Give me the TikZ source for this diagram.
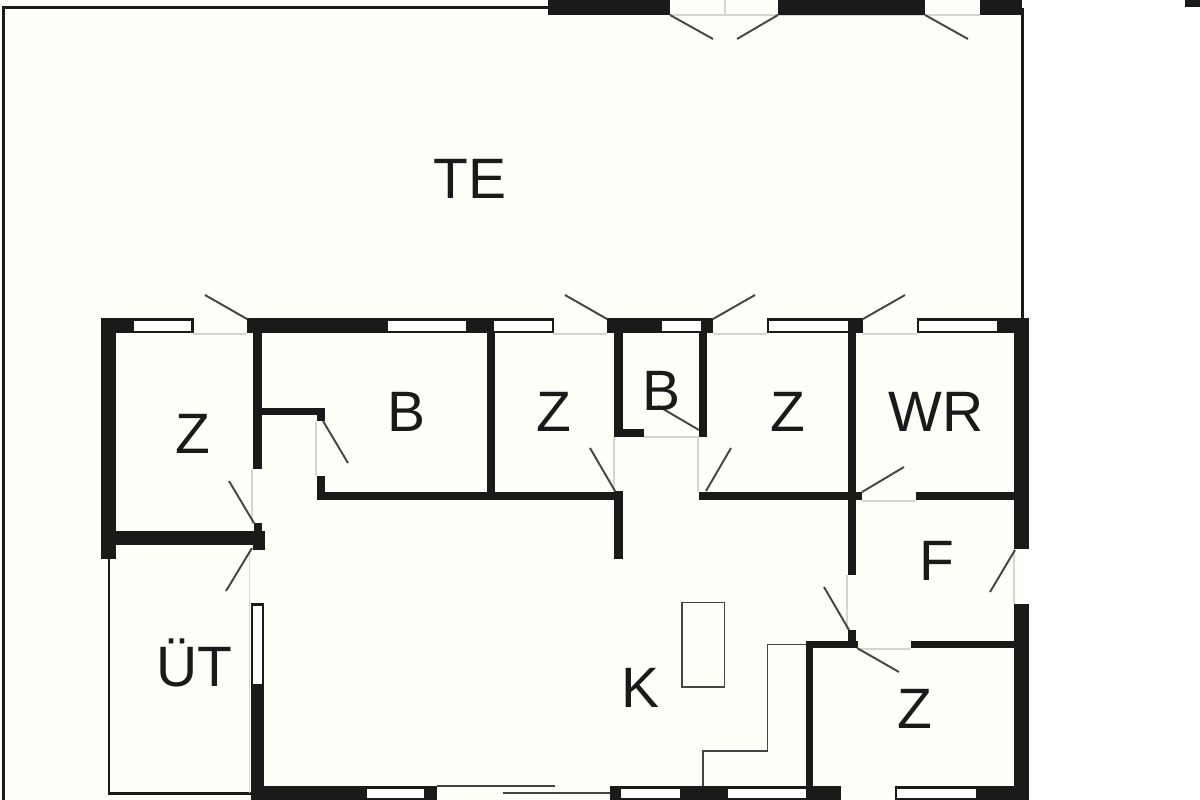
\documentclass[tikz,border=0pt]{standalone}
\usepackage{fontspec}
\setmainfont{Liberation Sans}
\definecolor{ink}{HTML}{1A1A1A}
\definecolor{paper}{HTML}{FFFFFA}
\definecolor{swingline}{HTML}{454545}
\definecolor{sillline}{HTML}{D6D6CF}
\tikzset{
	wall/.style={fill=ink},
	thinwall/.style={draw=ink, line width=0.85pt},
	windowpane/.style={draw=ink, fill=white, line width=0.7pt},
	swing/.style={draw=swingline, line width=0.55pt},
	sill/.style={draw=sillline, line width=0.3pt},
	fixture/.style={draw=swingline, line width=0.55pt},
	roomlabel/.style={anchor=base, inner sep=0pt, font=\fontsize{16.2}{18}\selectfont, text=ink}
}

\begin{document}
\begin{tikzpicture}[x=0.01cm, y=-0.01cm]
	\useasboundingbox (0, 0) rectangle (1200, 800);
	\fill[white] (0, 0) rectangle (1200, 800);
	\fill[paper] (0, 0) rectangle (1023, 800);
	
	% terrace outline
	\draw[thinwall] (3.5, 800) -- (3.5, 7.5) -- (548, 7.5);
	\draw[thinwall] (1022.5, 8) -- (1022.5, 320);
	\draw[thinwall] (109, 559) -- (109, 793.5) -- (251, 793.5);
	
	% sills
	\draw[sill] (670, 15) -- (980, 15);
	\draw[sill] (725, 0) -- (725, 15);
	\draw[sill] (193, 334) -- (247, 334);
	\draw[sill] (553, 334) -- (607, 334);
	\draw[sill] (713, 334) -- (767, 334);
	\draw[sill] (863, 334) -- (917, 334);
	\draw[sill] (316, 421) -- (316, 476);
	\draw[sill] (252, 469) -- (252, 524);
	\draw[sill] (249.5, 550) -- (249.5, 793);
	\draw[sill] (643, 437) -- (699, 437);
	\draw[sill] (614, 437) -- (614, 491);
	\draw[sill] (698, 437) -- (698, 492);
	\draw[sill] (862, 501) -- (916, 501);
	\draw[sill] (847, 575) -- (847, 630);
	\draw[sill] (1014, 549) -- (1014, 604);
	\draw[sill] (858, 649) -- (911, 649);
	
	% top wall
	\fill[wall] (548, 0) rectangle (670, 15);
	\fill[wall] (778, 0) rectangle (925, 15);
	\fill[wall] (980, 0) rectangle (1022, 15);
	\fill[wall] (1185, 0) rectangle (1200, 7);
	
	% north wall of the house
	\fill[wall] (101, 318) rectangle (132, 333);
	\fill[wall] (247, 318) rectangle (387, 333);
	\fill[wall] (467, 318) rectangle (493, 333);
	\fill[wall] (607, 318) rectangle (661, 333);
	\fill[wall] (702, 318) rectangle (713, 333);
	\fill[wall] (849, 318) rectangle (863, 333);
	\fill[wall] (998, 318) rectangle (1029, 333);
	\draw[windowpane] (132.5, 319.5) rectangle (192.5, 332);
	\draw[windowpane] (387, 319.5) rectangle (467, 332);
	\draw[windowpane] (493, 319.5) rectangle (553, 332);
	\draw[windowpane] (661, 319.5) rectangle (702, 332);
	\draw[windowpane] (768, 319.5) rectangle (849, 332);
	\draw[windowpane] (918, 319.5) rectangle (998, 332);
	
	% outer walls
	\fill[wall] (101, 318) rectangle (116, 559);
	\fill[wall] (1014, 318) rectangle (1029, 549);
	\fill[wall] (1014, 604) rectangle (1029, 800);
	\fill[wall] (251, 685) rectangle (264, 800);
	\draw[windowpane] (252, 604.5) rectangle (263, 685);
	
	% south wall
	\fill[wall] (251, 786) rectangle (366, 800);
	\fill[wall] (425, 786) rectangle (437, 800);
	\fill[wall] (610, 786) rectangle (620, 800);
	\fill[wall] (681, 786) rectangle (727, 800);
	\fill[wall] (807, 786) rectangle (841, 800);
	\fill[wall] (977, 786) rectangle (1029, 800);
	\draw[windowpane] (366, 787.5) rectangle (425, 799);
	\draw[windowpane] (620, 787.5) rectangle (681, 799);
	\draw[windowpane] (727, 787.5) rectangle (807, 799);
	\draw[windowpane] (896, 787.5) rectangle (977, 799);
	
	% inner walls
	\fill[wall] (253, 333) rectangle (262, 469);
	\fill[wall] (262, 408) rectangle (325, 415);
	\fill[wall] (317, 408) rectangle (325, 421);
	\fill[wall] (317, 476) rectangle (325, 500);
	\fill[wall] (317, 492) rectangle (623, 500);
	\fill[wall] (487, 333) rectangle (495, 492);
	\fill[wall] (614, 491) rectangle (623, 559);
	\fill[wall] (116, 531) rectangle (253, 545);
	\fill[wall] (254, 523) rectangle (262, 531);
	\fill[wall] (253, 531) rectangle (265, 550);
	\fill[wall] (614, 333) rectangle (623, 437);
	\fill[wall] (614, 429) rectangle (644, 437);
	\fill[wall] (699, 333) rectangle (707, 437);
	\fill[wall] (699, 492) rectangle (862, 500);
	\fill[wall] (848, 333) rectangle (856, 575);
	\fill[wall] (916, 492) rectangle (1014, 500);
	\fill[wall] (848, 630) rectangle (856, 641);
	\fill[wall] (806, 641) rectangle (858, 648);
	\fill[wall] (806, 641) rectangle (813, 786);
	\fill[wall] (911, 641) rectangle (1014, 648);
	
	% door swings
	\draw[swing] (670, 15) -- (713, 39);
	\draw[swing] (778, 15) -- (737, 39);
	\draw[swing] (925, 15) -- (968, 39);
	\draw[swing] (247, 319) -- (205, 295);
	\draw[swing] (607, 319) -- (565, 295);
	\draw[swing] (713, 319) -- (755, 295);
	\draw[swing] (863, 319) -- (905, 295);
	\draw[swing] (323, 421) -- (348, 463);
	\draw[swing] (254, 523) -- (229, 481);
	\draw[swing] (252, 548) -- (226, 591);
	\draw[swing] (615, 491) -- (590, 448);
	\draw[swing] (706, 491) -- (731, 448);
	\draw[swing] (699, 430) -- (658, 406);
	\draw[swing] (862, 492) -- (904, 467);
	\draw[swing] (1015, 550) -- (990, 592);
	\draw[swing] (849, 630) -- (824, 587);
	\draw[swing] (857, 648) -- (899, 672);
	
	% sliding door
	\draw[swing] (437, 786) -- (555, 786);
	\draw[swing] (503, 793) -- (610, 793);
	
	% fixtures
	\draw[fixture] (682, 602.5) rectangle (724.5, 687);
	\draw[fixture] (806, 644.5) -- (767.5, 644.5) -- (767.5, 751) -- (703, 751) -- (703, 786);
	
	\node[roomlabel] (terrace) at (470, 198) {TE};
	\node[roomlabel] (zimmerA) at (193, 453) {Z};
	\node[roomlabel] (bathA) at (406, 431) {B};
	\node[roomlabel] (zimmerB) at (554, 431) {Z};
	\node[roomlabel] (bathB) at (661, 410) {B};
	\node[roomlabel] (zimmerC) at (788, 431) {Z};
	\node[roomlabel] (wardrobe) at (936, 431) {WR};
	\node[roomlabel] (foyer) at (937, 580) {F};
	\node[roomlabel] (utility) at (194, 686) {ÜT};
	\node[roomlabel] (kitchen) at (640, 707) {K};
	\node[roomlabel] (zimmerD) at (915, 728) {Z};
\end{tikzpicture}
\end{document}
